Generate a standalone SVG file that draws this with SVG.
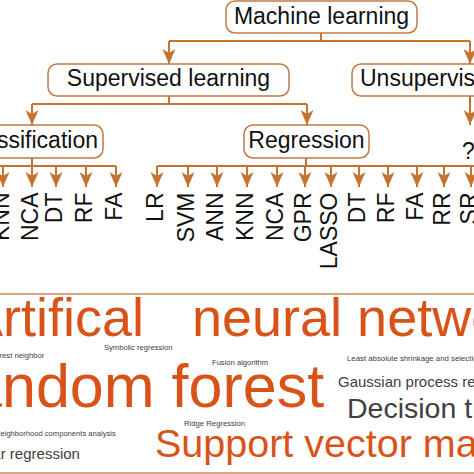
<svg xmlns="http://www.w3.org/2000/svg" width="474" height="474" viewBox="0 0 474 474">
<style>
.box{fill:#fff;stroke:#c07a45;stroke-width:1.5}
.nt{font-family:"Liberation Sans",Arial,sans-serif;font-size:23px;fill:#111}
.ln{fill:none;stroke:#c5742f;stroke-width:2}
.lab{font-family:"Liberation Sans",Arial,sans-serif;font-size:23px;fill:#111;text-anchor:end}
.wc{font-family:"Liberation Sans",Arial,sans-serif}
.hi{fill:#D95319}
.gr{fill:#404040}
</style>
<defs>
<marker id="ah" viewBox="0 -7 15 14" refX="15" refY="0" markerWidth="15" markerHeight="14" markerUnits="userSpaceOnUse" orient="auto">
<path d="M0,-6.5 L15,0 L0,6.5 L4,0 Z" fill="#c5742f"/>
</marker>
</defs>
<rect width="474" height="474" fill="#fff"/>
<g id="connectors">
<path class="ln" d="M321,33 V41 M169,41 H470"/>
<path class="ln" d="M169,41 V64" marker-end="url(#ah)"/>
<path class="ln" d="M470,41 V64" marker-end="url(#ah)"/>
<path class="ln" d="M169,96 V104 M32,104 H307"/>
<path class="ln" d="M32,104 V125" marker-end="url(#ah)"/>
<path class="ln" d="M307,104 V125" marker-end="url(#ah)"/>
<path class="ln" d="M470,96 V125" marker-end="url(#ah)"/>
<path class="ln" d="M32,158 V166 M0,166 H116"/>
<path class="ln" d="M3,166 V187" marker-end="url(#ah)"/>
<path class="ln" d="M32,166 V187" marker-end="url(#ah)"/>
<path class="ln" d="M56,166 V187" marker-end="url(#ah)"/>
<path class="ln" d="M86,166 V187" marker-end="url(#ah)"/>
<path class="ln" d="M116,166 V187" marker-end="url(#ah)"/>
<path class="ln" d="M306,158 V166 M157,166 H474"/>
<path class="ln" d="M157,166 V187" marker-end="url(#ah)"/>
<path class="ln" d="M188,166 V187" marker-end="url(#ah)"/>
<path class="ln" d="M217,166 V187" marker-end="url(#ah)"/>
<path class="ln" d="M247,166 V187" marker-end="url(#ah)"/>
<path class="ln" d="M277,166 V187" marker-end="url(#ah)"/>
<path class="ln" d="M305,166 V187" marker-end="url(#ah)"/>
<path class="ln" d="M331,166 V187" marker-end="url(#ah)"/>
<path class="ln" d="M359,166 V187" marker-end="url(#ah)"/>
<path class="ln" d="M388,166 V187" marker-end="url(#ah)"/>
<path class="ln" d="M417,166 V187" marker-end="url(#ah)"/>
<path class="ln" d="M444,166 V187" marker-end="url(#ah)"/>
<path class="ln" d="M471,166 V187" marker-end="url(#ah)"/>
</g>
<g id="machine-learning">
<rect class="box" x="226" y="1" width="191" height="32" rx="9"/>
<text class="nt" x="321.5" y="24" text-anchor="middle">Machine learning</text>
</g>
<g id="supervised">
<rect class="box" x="48" y="64" width="241" height="32" rx="9"/>
<text class="nt" x="168.5" y="86" text-anchor="middle">Supervised learning</text>
</g>
<g id="unsupervised">
<rect class="box" x="352" y="64" width="200" height="32" rx="9"/>
<text class="nt" x="360" y="86">Unsupervised learning</text>
</g>
<g id="classification">
<rect class="box" x="-45" y="125" width="148" height="33" rx="9"/>
<text class="nt" x="98" y="147.5" text-anchor="end">Classification</text>
</g>
<g id="regression">
<rect class="box" x="244" y="125" width="125" height="33" rx="9"/>
<text class="nt" x="306.5" y="147.5" text-anchor="middle">Regression</text>
</g>
<g id="unknown">
<text class="nt" x="462" y="159">?</text>
</g>
<g id="class-labels">
<text class="lab" transform="translate(8.5,192.5) rotate(-90)">KNN</text>
<text class="lab" transform="translate(37.5,192.5) rotate(-90)">NCA</text>
<text class="lab" transform="translate(61.5,192.5) rotate(-90)">DT</text>
<text class="lab" transform="translate(91.5,192.5) rotate(-90)">RF</text>
<text class="lab" transform="translate(121.5,192.5) rotate(-90)">FA</text>
</g>
<g id="reg-labels">
<text class="lab" transform="translate(162.5,192.5) rotate(-90)">LR</text>
<text class="lab" transform="translate(193.5,192.5) rotate(-90)">SVM</text>
<text class="lab" transform="translate(222.5,192.5) rotate(-90)">ANN</text>
<text class="lab" transform="translate(252.5,192.5) rotate(-90)">KNN</text>
<text class="lab" transform="translate(282.5,192.5) rotate(-90)">NCA</text>
<text class="lab" transform="translate(310.5,192.5) rotate(-90)">GPR</text>
<text class="lab" transform="translate(336.5,192.5) rotate(-90)">LASSO</text>
<text class="lab" transform="translate(364.5,192.5) rotate(-90)">DT</text>
<text class="lab" transform="translate(393.5,192.5) rotate(-90)">RF</text>
<text class="lab" transform="translate(422.5,192.5) rotate(-90)">FA</text>
<text class="lab" transform="translate(449.5,192.5) rotate(-90)">RR</text>
<text class="lab" transform="translate(476.5,192.5) rotate(-90)">SR</text>
</g>
<g id="word-cloud">
<rect x="-10" y="294" width="494" height="179" fill="none" stroke="#c98a5a" stroke-width="1.5"/>
<text class="wc hi" font-size="54" x="-33" y="336">Artifical <tspan x="192">neural network</tspan></text>
<text class="wc gr" font-size="7.6" x="104" y="350">Symbolic regression</text>
<text class="wc gr" font-size="7.7" x="-21" y="358">K-nearest neighbor</text>
<text class="wc gr" font-size="7.6" x="212" y="365">Fusion algorithm</text>
<text class="wc gr" font-size="7.8" x="347" y="361">Least absolute shrinkage and selection operator</text>
<text class="wc hi" font-size="61" x="-76" y="407">Random forest</text>
<text class="wc gr" font-size="15" x="338" y="387">Gaussian process regression</text>
<text class="wc gr" font-size="28.5" x="347" y="418">Decision tree</text>
<text class="wc gr" font-size="7.7" x="184" y="426">Ridge Regression</text>
<text class="wc gr" font-size="7.6" x="-5" y="436">Neighborhood components analysis</text>
<text class="wc gr" font-size="15" x="-36" y="459">Linear regression</text>
<text class="wc hi" font-size="39.5" x="155" y="457">Support vector machine</text>
</g>
</svg>
